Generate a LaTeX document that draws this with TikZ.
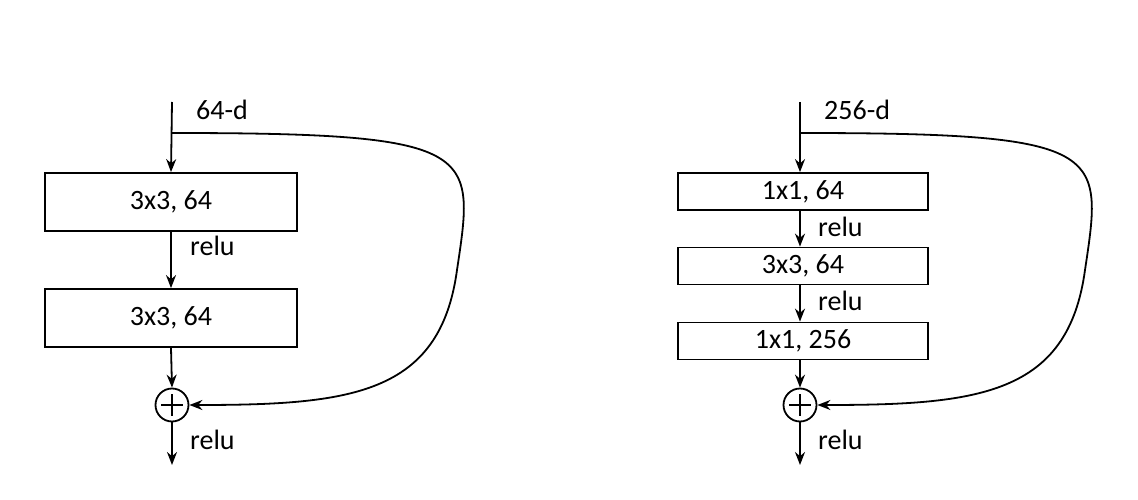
\documentclass[tikz,border=0pt]{standalone}
\usepackage{fontspec}
\setmainfont{Carlito}
\usetikzlibrary{arrows.meta}
\newcommand{\bigtxt}{\fontsize{28}{33}\selectfont}
\begin{document}
\begin{tikzpicture}[x=1pt,y=-1pt,
  lay/.style={draw,line width=1.8pt,minimum height=#1,inner sep=0pt},
  lbl/.style={anchor=west,inner sep=0pt},
  ar/.style={-{Stealth[length=13pt,width=10pt]},line width=1.8pt},
  sumc/.style={draw,circle,line width=1.8pt,minimum size=33pt,inner sep=0pt}]
\useasboundingbox (0,0) rectangle (1138,500);
% left
\coordinate (lt) at (172,102);
\coordinate (ls) at (172,133);
\node[lay=58pt,minimum width=252pt] (l1) at (171,202) {\bigtxt 3x3, 64};
\node[lay=58pt,minimum width=252pt] (l2) at (171,318) {\bigtxt 3x3, 64};
\node[sumc] (lp) at (172,405) {};
\draw[line width=1.8pt] (172,394)--(172,416) (161,405)--(183,405);
\coordinate (lo) at (172,465);
\draw[ar] (lt)--(l1.north);
\draw[ar] (l1.south)--(l2.north);
\draw[ar] (l2.south)--(lp.north);
\draw[ar] (lp.south)--(lo);
\draw[ar] (ls) .. controls (480,133) and (475,150) .. (457,270) .. controls (440,395) and (350,405) .. (lp.east);
\node[lbl] (ld) at (196,110) {\bigtxt 64-d};
\node[lbl] (lr1) at (190,246) {\bigtxt relu};
\node[lbl] (lr2) at (190,440) {\bigtxt relu};
% right
\coordinate (rt) at (800,102);
\coordinate (rs) at (800,133);
\node[lay=37pt,minimum width=250pt] (r1) at (803,191.5) {\bigtxt 1x1, 64};
\node[lay=37pt,minimum width=250pt] (r2) at (803,266) {\bigtxt 3x3, 64};
\node[lay=37pt,minimum width=250pt] (r3) at (803,341) {\bigtxt 1x1, 256};
\node[sumc] (rp) at (800,405) {};
\draw[line width=1.8pt] (800,394)--(800,416) (789,405)--(811,405);
\coordinate (ro) at (800,465);
\draw[ar] (rt)--(r1.north -| rt);
\draw[ar] (r1.south -| rt)--(r2.north -| rt);
\draw[ar] (r2.south -| rt)--(r3.north -| rt);
\draw[ar] (r3.south -| rt)--(rp.north);
\draw[ar] (rp.south)--(ro);
\draw[ar] (rs) .. controls (1108,133) and (1103,150) .. (1085,270) .. controls (1068,395) and (978,405) .. (rp.east);
\node[lbl] (rd) at (824,110) {\bigtxt 256-d};
\node[lbl] (rr1) at (818,227) {\bigtxt relu};
\node[lbl] (rr2) at (818,301) {\bigtxt relu};
\node[lbl] (rr3) at (818,440) {\bigtxt relu};
\end{tikzpicture}
\end{document}
